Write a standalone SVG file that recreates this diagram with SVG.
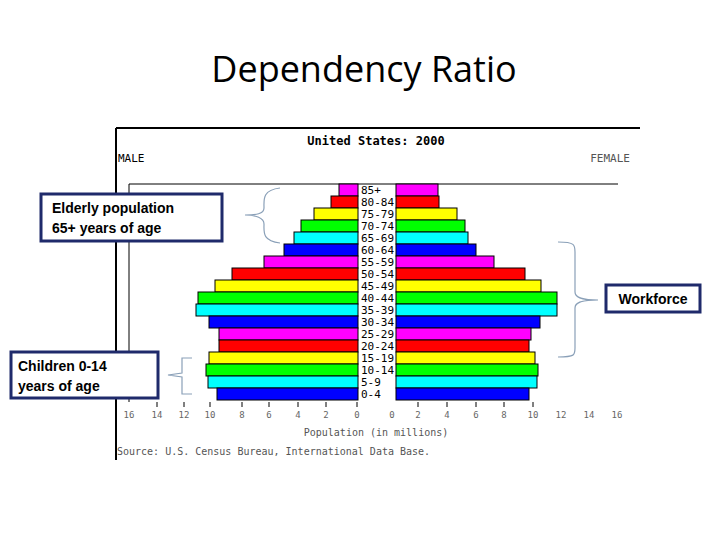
<svg xmlns="http://www.w3.org/2000/svg" width="728" height="546" viewBox="0 0 728 546">
<style>
.bar{stroke:#000;stroke-width:1}
.m{fill:#ff00ff}.r{fill:#ff0000}.y{fill:#ffff00}.g{fill:#00ff00}.c{fill:#00ffff}.b{fill:#0000ff}
.age{font-family:"DejaVu Sans Mono",monospace;font-size:11px;fill:#000}
.tick{font-family:"DejaVu Sans Mono",monospace;font-size:9px;fill:#666;text-anchor:middle}
.box{fill:#fff;stroke:#1f2a6b;stroke-width:3}
.lbl{font-family:"Liberation Sans",Arial,sans-serif;font-weight:bold;font-size:14px;fill:#000}
.brace{fill:none;stroke:#8aa0b8;stroke-width:1.2}
</style>
<rect width="728" height="546" fill="#fff"/>
<text x="364" y="82" text-anchor="middle" font-family="'Open Sans','Liberation Sans',sans-serif" font-size="36" fill="#000">Dependency Ratio</text>
<g id="chart">
<line x1="116" y1="128" x2="116" y2="460" stroke="#000" stroke-width="2"/>
<line x1="116" y1="128" x2="640" y2="128" stroke="#000" stroke-width="2"/>
<line x1="129" y1="184" x2="618" y2="184" stroke="#000"/>
<line x1="129" y1="184" x2="129" y2="402" stroke="#000"/>
<text x="376" y="145" text-anchor="middle" font-family="'DejaVu Sans Mono',monospace" font-weight="bold" font-size="12">United States: 2000</text>
<text x="118" y="162" font-family="'DejaVu Sans Mono',monospace" font-size="11">MALE</text>
<text x="630" y="162" text-anchor="end" font-family="'DejaVu Sans Mono',monospace" font-size="11" fill="#555">FEMALE</text>
<g id="male">
<rect class="bar m" x="339" y="184" width="19" height="12"/>
<rect class="bar r" x="331" y="196" width="27" height="12"/>
<rect class="bar y" x="314" y="208" width="44" height="12"/>
<rect class="bar g" x="301" y="220" width="57" height="12"/>
<rect class="bar c" x="294" y="232" width="64" height="12"/>
<rect class="bar b" x="284" y="244" width="74" height="12"/>
<rect class="bar m" x="264" y="256" width="94" height="12"/>
<rect class="bar r" x="232" y="268" width="126" height="12"/>
<rect class="bar y" x="215" y="280" width="143" height="12"/>
<rect class="bar g" x="198" y="292" width="160" height="12"/>
<rect class="bar c" x="196" y="304" width="162" height="12"/>
<rect class="bar b" x="209" y="316" width="149" height="12"/>
<rect class="bar m" x="219" y="328" width="139" height="12"/>
<rect class="bar r" x="219" y="340" width="139" height="12"/>
<rect class="bar y" x="209" y="352" width="149" height="12"/>
<rect class="bar g" x="206" y="364" width="152" height="12"/>
<rect class="bar c" x="208" y="376" width="150" height="12"/>
<rect class="bar b" x="217" y="388" width="141" height="12"/>
</g>
<g id="female">
<rect class="bar m" x="396" y="184" width="42" height="12"/>
<rect class="bar r" x="396" y="196" width="43" height="12"/>
<rect class="bar y" x="396" y="208" width="61" height="12"/>
<rect class="bar g" x="396" y="220" width="69" height="12"/>
<rect class="bar c" x="396" y="232" width="72" height="12"/>
<rect class="bar b" x="396" y="244" width="80" height="12"/>
<rect class="bar m" x="396" y="256" width="98" height="12"/>
<rect class="bar r" x="396" y="268" width="129" height="12"/>
<rect class="bar y" x="396" y="280" width="145" height="12"/>
<rect class="bar g" x="396" y="292" width="161" height="12"/>
<rect class="bar c" x="396" y="304" width="161" height="12"/>
<rect class="bar b" x="396" y="316" width="144" height="12"/>
<rect class="bar m" x="396" y="328" width="135" height="12"/>
<rect class="bar r" x="396" y="340" width="133" height="12"/>
<rect class="bar y" x="396" y="352" width="139" height="12"/>
<rect class="bar g" x="396" y="364" width="142" height="12"/>
<rect class="bar c" x="396" y="376" width="141" height="12"/>
<rect class="bar b" x="396" y="388" width="133" height="12"/>
</g>
<g id="ages">
<text class="age" x="361" y="194">85+</text>
<text class="age" x="361" y="206">80-84</text>
<text class="age" x="361" y="218">75-79</text>
<text class="age" x="361" y="230">70-74</text>
<text class="age" x="361" y="242">65-69</text>
<text class="age" x="361" y="254">60-64</text>
<text class="age" x="361" y="266">55-59</text>
<text class="age" x="361" y="278">50-54</text>
<text class="age" x="361" y="290">45-49</text>
<text class="age" x="361" y="302" fill="#666">40-44</text>
<text class="age" x="361" y="314" fill="#888">35-39</text>
<text class="age" x="361" y="326" fill="#888">30-34</text>
<text class="age" x="361" y="338" fill="#888">25-29</text>
<text class="age" x="361" y="350" fill="#888">20-24</text>
<text class="age" x="361" y="362" fill="#888">15-19</text>
<text class="age" x="361" y="374" fill="#888">10-14</text>
<text class="age" x="361" y="386" fill="#888">5-9</text>
<text class="age" x="361" y="398" fill="#888">0-4</text>
</g>
<g id="axis" stroke="#000">
<line x1="157" y1="402" x2="157" y2="407"/><line x1="184" y1="402" x2="184" y2="407"/><line x1="210" y1="402" x2="210" y2="407"/><line x1="242" y1="402" x2="242" y2="407"/><line x1="269" y1="402" x2="269" y2="407"/><line x1="298" y1="402" x2="298" y2="407"/><line x1="326" y1="402" x2="326" y2="407"/><line x1="357" y1="402" x2="357" y2="407"/>
<line x1="418" y1="402" x2="418" y2="407"/><line x1="447" y1="402" x2="447" y2="407"/><line x1="476" y1="402" x2="476" y2="407"/><line x1="504" y1="402" x2="504" y2="407"/><line x1="533" y1="402" x2="533" y2="407"/>
</g>
<g id="ticks">
<text class="tick" x="129" y="418">16</text><text class="tick" x="157" y="418">14</text><text class="tick" x="184" y="418">12</text><text class="tick" x="210" y="418">10</text><text class="tick" x="242" y="418">8</text><text class="tick" x="269" y="418">6</text><text class="tick" x="298" y="418">4</text><text class="tick" x="326" y="418">2</text><text class="tick" x="357" y="418">0</text>
<text class="tick" x="392" y="418">0</text><text class="tick" x="418" y="418">2</text><text class="tick" x="447" y="418">4</text><text class="tick" x="476" y="418">6</text><text class="tick" x="504" y="418">8</text><text class="tick" x="533" y="418">10</text><text class="tick" x="561" y="418">12</text><text class="tick" x="589" y="418">14</text><text class="tick" x="617" y="418">16</text>
</g>
<text x="376" y="436" text-anchor="middle" font-family="'DejaVu Sans Mono',monospace" font-size="10" fill="#555">Population (in millions)</text>
<text x="117" y="455" font-family="'DejaVu Sans Mono',monospace" font-size="10" fill="#555">Source: U.S. Census Bureau, International Data Base.</text>
</g>
<g id="connectors">
<path class="brace" d="M280,188 C262,190 264,200 264,208 C264,214 256,215 245,215 C256,215 264,218 264,224 C264,232 262,241 280,243"/>
<path class="brace" d="M558,242 C575,242 575,245 575,252 L575,292 C575,297 580,300 598,300 C580,300 575,303 575,308 L575,348 C575,355 575,357 558,357"/>
<path class="brace" d="M192,358 L182,358 L182,373 L168,375 L182,377 L182,394 L192,394"/>
</g>
<g id="elderly">
<rect class="box" x="41" y="194" width="181" height="47"/>
<text class="lbl" x="52" y="213">Elderly population</text>
<text class="lbl" x="52" y="233">65+ years of age</text>
</g>
<g id="children">
<rect class="box" x="11" y="352" width="147" height="46"/>
<text class="lbl" x="18" y="371">Children 0-14</text>
<text class="lbl" x="18" y="391">years of age</text>
</g>
<g id="workforce">
<rect class="box" x="606" y="285" width="94" height="27"/>
<text class="lbl" x="653" y="304" text-anchor="middle">Workforce</text>
</g>
</svg>
